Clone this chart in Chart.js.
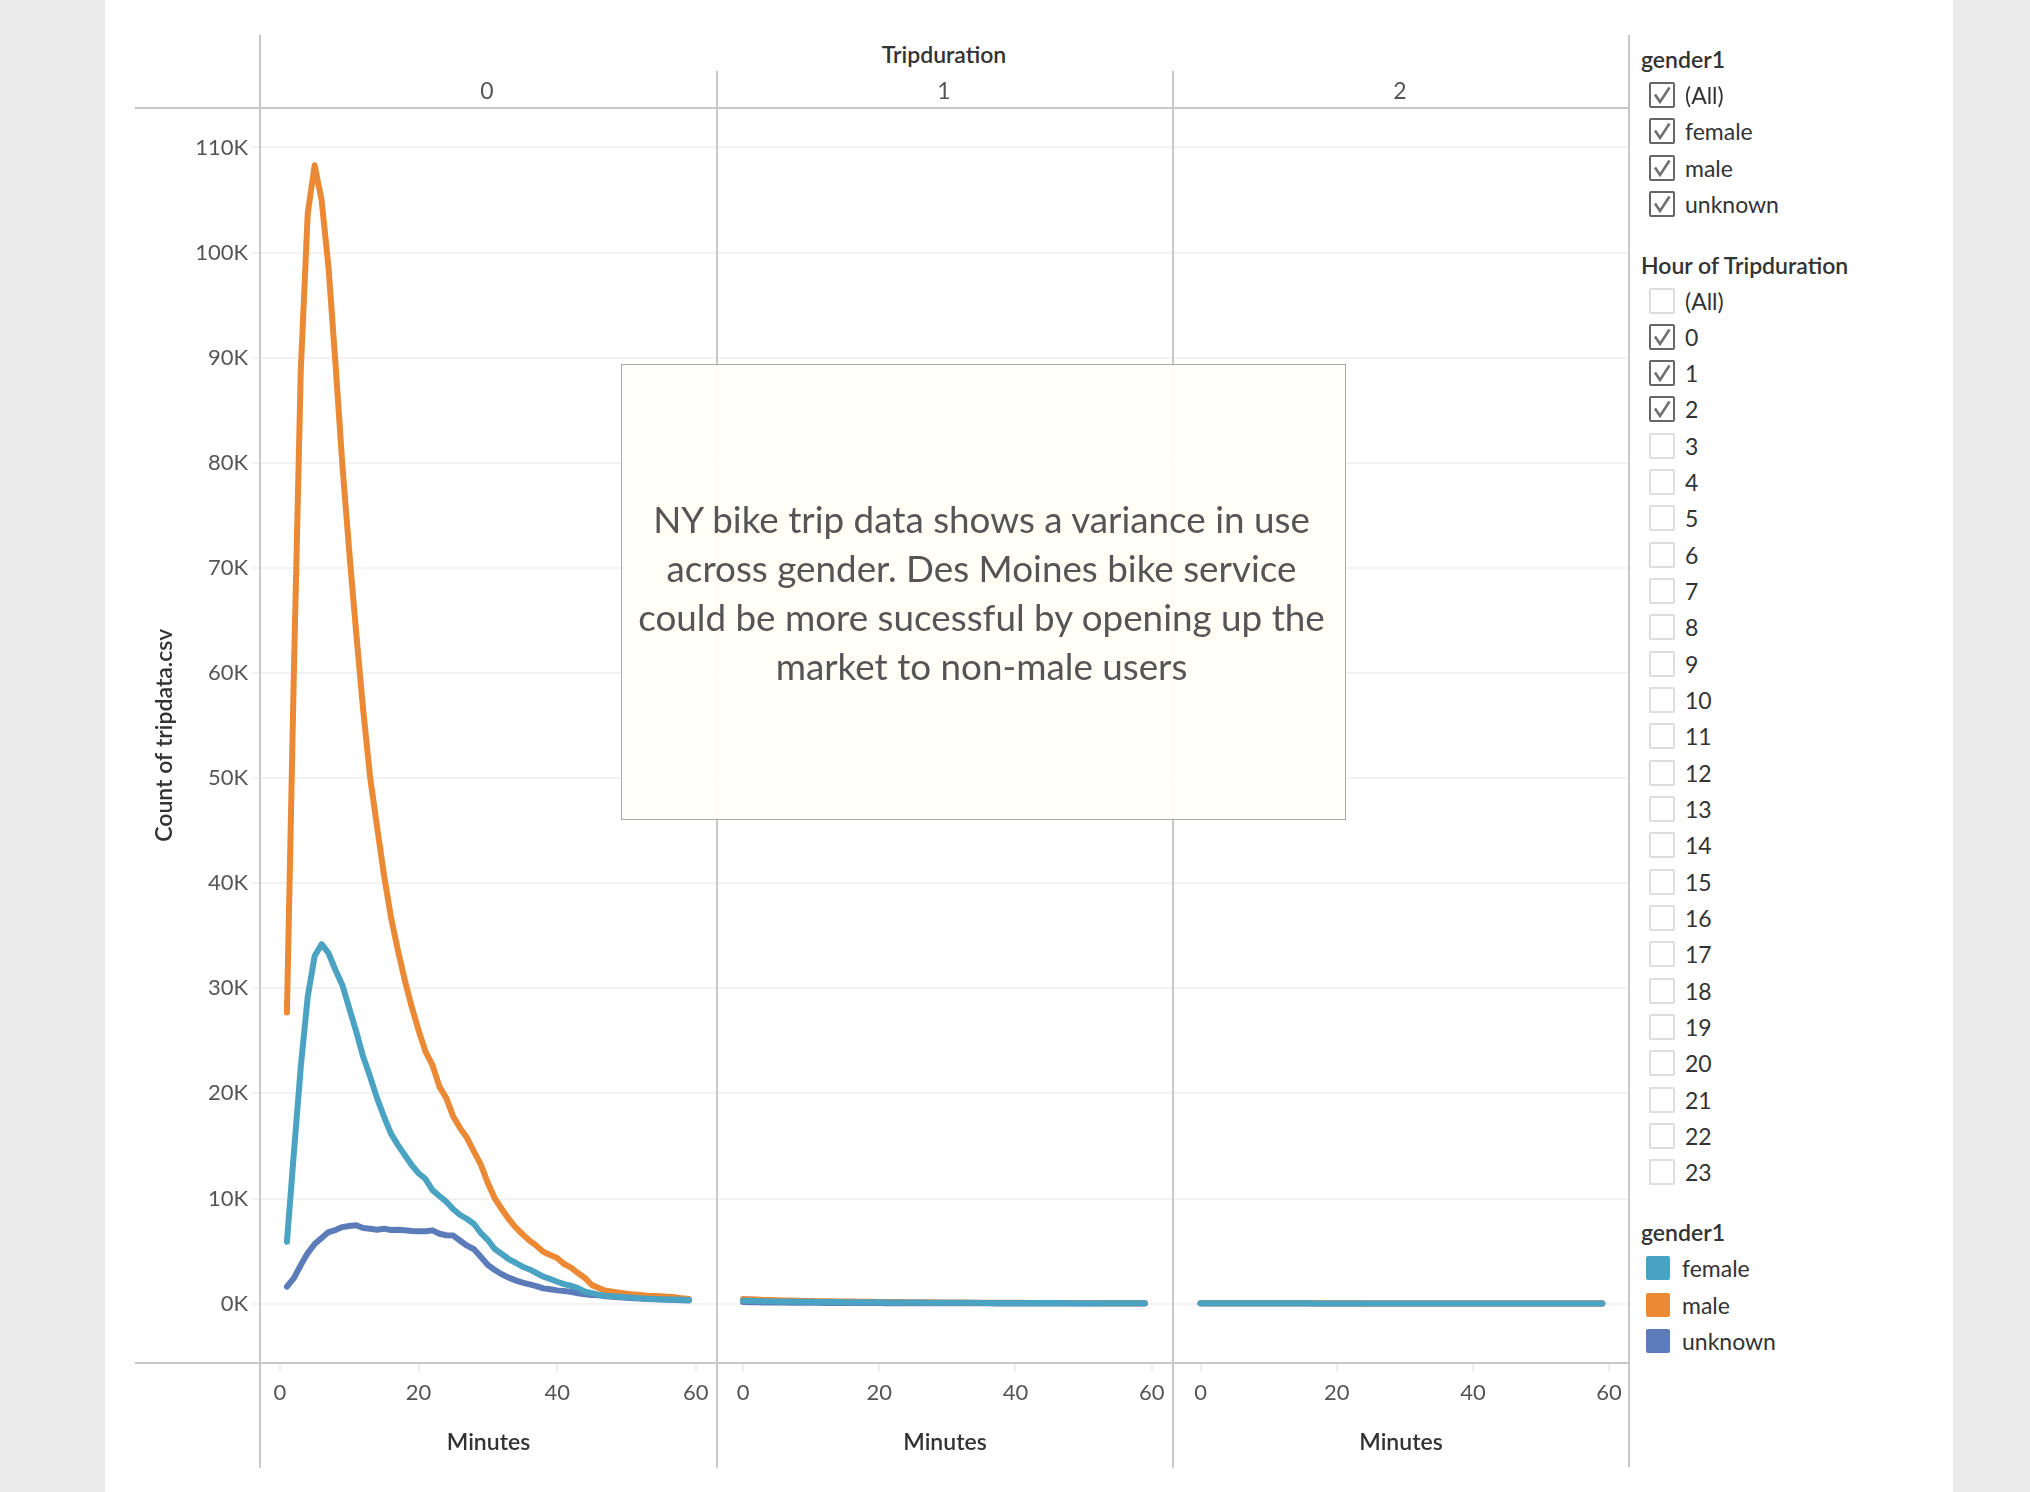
<!DOCTYPE html>
<html>
<head>
<meta charset="utf-8">
<title>Tripduration</title>
<script src="https://cdn.jsdelivr.net/npm/chart.js@4"></script>
<style>
    html, body { margin: 0; padding: 0; background: #fff; }
    body { width: 2030px; height: 1492px; position: relative; overflow: hidden; font-family: Lato, sans-serif; color: #333; }
    .band { position: absolute; top: 0; height: 1492px; background: #ebebeb; }
    canvas { position: absolute; }
    .line { position: absolute; background: #c8c8c8; z-index: 2; }
    .label { position: absolute; white-space: nowrap; transform: translateY(-50%); font-size: 23px; line-height: 26px; z-index: 3; }
    .center { transform: translate(-50%, -50%); }
    .title { font-weight: 600; color: #333; }
    .head { color: #555; }
    .box { position: absolute; left: 1649px; width: 22px; height: 22px; border: 2px solid #666; border-radius: 2px; transform: translateY(-50%); z-index: 3; }
    .box.off { border-color: #ddd; }
    .swatch { position: absolute; left: 1646px; width: 24px; height: 24px; border-radius: 2px; transform: translateY(-50%); }
    #note { position: absolute; left: 621px; top: 364px; width: 723px; height: 454px; border: 1px solid #aaa; background: rgba(255,255,247,0.93); z-index: 4; }
    #note div { position: absolute; left: -2px; width: 100%; text-align: center; font-size: 36.8px; line-height: 49px; color: #555; transform: translateY(-50%); white-space: nowrap; }
</style>
</head>
<body>
<div class="band" style="left:0;width:105px"></div>
<div class="band" style="left:1953px;width:77px"></div>
<div id="page"></div>
<canvas id="hour0" style="left:135px;top:100px"></canvas>
<canvas id="hour1" style="left:717px;top:100px"></canvas>
<canvas id="hour2" style="left:1173px;top:100px"></canvas>
<div id="note"></div>
<script>
// minutes on the x axis of each panel
const minutes0 = [1,2,3,4,5,6,7,8,9,10,11,12,13,14,15,16,17,18,19,20,21,22,23,24,25,26,27,28,29,30,31,32,33,34,35,36,37,38,39,40,41,42,43,44,45,46,47,48,49,50,51,52,53,54,55,56,57,58,59];
const minutes12 = [0,1,2,3,4,5,6,7,8,9,10,11,12,13,14,15,16,17,18,19,20,21,22,23,24,25,26,27,28,29,30,31,32,33,34,35,36,37,38,39,40,41,42,43,44,45,46,47,48,49,50,51,52,53,54,55,56,57,58,59];

// hour 0
const female0 = [5890,14300,22540,29200,33070,34200,33350,31740,30300,28100,25870,23500,21600,19550,17800,16200,15100,14140,13190,12400,11850,10800,10240,9700,8980,8430,8050,7570,6700,6050,5190,4720,4240,3890,3510,3250,2910,2560,2340,2080,1860,1700,1480,1130,1000,850,750,700,650,600,550,500,470,440,420,400,380,370,340];
const male0 = [27700,60000,88800,103700,108300,105000,98600,89500,79800,71500,63800,56500,50100,45400,40800,36800,33650,30800,28250,26000,23970,22700,20640,19550,17800,16700,15750,14450,13190,11470,10000,9000,8050,7250,6600,6000,5510,4940,4620,4340,3770,3420,2910,2440,1770,1480,1230,1130,1040,940,880,820,750,720,690,660,600,500,440];
const unknown0 = [1610,2430,3670,4810,5670,6240,6810,7000,7280,7380,7450,7190,7130,7030,7130,7000,7030,6970,6910,6880,6880,6970,6650,6500,6470,5980,5510,5170,4430,3670,3200,2790,2470,2210,1990,1830,1670,1450,1360,1260,1200,1130,980,880,820,790,700,650,600,560,520,480,450,420,390,360,340,320,300];

// hour 1
const female1 = [300,270,250,235,220,210,200,195,185,180,170,165,160,150,145,140,135,130,125,120,118,112,108,105,100,98,95,92,88,85,82,80,78,75,72,70,68,66,65,62,60,58,56,55,52,50,50,48,46,45,44,42,40,40,38,36,36,35,34,32];
const male1 = [450,410,380,355,335,315,300,285,270,255,245,235,225,215,205,198,190,182,175,170,162,155,150,145,138,132,128,122,118,112,108,105,100,98,92,88,85,82,80,76,74,72,68,65,64,60,58,56,55,52,50,50,48,46,45,42,42,40,38,36];
const unknown1 = [150,135,125,115,108,100,95,90,85,80,76,72,68,65,62,60,56,54,52,50,48,45,44,42,40,38,36,35,34,32,30,30,28,26,26,25,24,22,22,20,20,20,18,18,16,16,15,15,14,14,12,12,12,10,10,10,10,8,8,8];

// hour 2
const female2 = [32,31,31,30,29,29,28,27,27,26,26,25,25,24,24,23,23,22,22,21,21,21,20,20,19,19,19,18,18,18,17,17,17,16,16,16,15,15,15,15,14,14,14,14,13,13,13,13,12,12,12,12,12,11,11,11,11,11,10,10];
const male2 = [36,35,35,34,33,33,32,31,31,30,29,29,28,28,27,27,26,26,25,25,24,24,23,23,22,22,22,21,21,20,20,20,19,19,18,18,18,18,17,17,16,16,16,16,15,15,15,15,14,14,14,14,13,13,13,13,12,12,12,12];
const unknown2 = [12,12,11,11,11,10,10,10,10,9,9,9,9,8,8,8,8,8,7,7,7,7,7,7,6,6,6,6,6,6,5,5,5,5,5,5,5,4,4,4,4,4,4,4,4,3,3,3,3,3,3,3,3,3,3,2,2,2,2,2];

const genders = ['female', 'male', 'unknown'];
const genderFilter = ['(All)', 'female', 'male', 'unknown'];
const hourFilter = ['(All)','0','1','2','3','4','5','6','7','8','9','10','11','12','13','14','15','16','17','18','19','20','21','22','23'];
const hoursChecked = ['0', '1', '2'];
const colors = { female: '#4ba3c3', male: '#ec8935', unknown: '#5b7cb8' };
const noteLines = [
    'NY bike trip data shows a variance in use',
    'across gender. Des Moines bike service',
    'could be more sucessful by opening up the',
    'market to non-male users'
];

Chart.defaults.font.family = 'Lato, sans-serif';
Chart.defaults.font.size = 22;
Chart.defaults.color = '#555';
Chart.defaults.animation = false;

const page = document.getElementById('page');

function addLine(left, top, width, height) {
    const el = document.createElement('div');
    el.className = 'line';
    el.style.cssText = `left:${left}px;top:${top}px;width:${width}px;height:${height}px`;
    page.appendChild(el);
}

function addLabel(text, left, top, cls) {
    const el = document.createElement('div');
    el.className = 'label ' + (cls || '');
    el.textContent = text;
    el.style.left = left + 'px';
    el.style.top = top + 'px';
    page.appendChild(el);
}

function addCheck(label, top, checked) {
    const box = document.createElement('div');
    box.className = 'box' + (checked ? '' : ' off');
    box.style.top = top + 'px';
    if (checked) {
        box.innerHTML = '<svg width="22" height="22" style="display:block"><path d="M4 10.5 L9 18 L18.5 3.5" fill="none" stroke="#707070" stroke-width="2.6"/></svg>';
    }
    page.appendChild(box);
    addLabel(label, 1685, top);
}

// panel rules
addLine(259, 35, 2, 1433);
addLine(716, 71, 2, 1397);
addLine(1172, 71, 2, 1397);
addLine(1628, 35, 2, 1432);
addLine(135, 107, 1494, 2);
addLine(135, 1362, 1494, 2);

// headers
addLabel('Tripduration', 944, 54, 'center title');
addLabel('0', 487, 90, 'center head');
addLabel('1', 944, 90, 'center head');
addLabel('2', 1400, 90, 'center head');

// filters and legend
addLabel('gender1', 1641, 59, 'title');
genderFilter.forEach((g, i) => addCheck(g, 94.7 + i * 36.4, true));
addLabel('Hour of Tripduration', 1641, 265, 'title');
hourFilter.forEach((h, i) => addCheck(h, 300.5 + i * 36.33, hoursChecked.includes(h)));
addLabel('gender1', 1641, 1232, 'title');
genders.forEach((g, i) => {
    const top = 1268 + i * 36.5;
    const sw = document.createElement('div');
    sw.className = 'swatch';
    sw.style.top = top + 'px';
    sw.style.background = colors[g];
    page.appendChild(sw);
    addLabel(g, 1682, top);
});

// note box
const note = document.getElementById('note');
noteLines.forEach((t, i) => {
    const el = document.createElement('div');
    el.textContent = t;
    el.style.top = (153.7 + i * 49) + 'px';
    note.appendChild(el);
});

function lineSet(name, xs, ys) {
    return {
        label: name,
        data: xs.map((x, i) => ({ x: x, y: ys[i] })),
        borderColor: colors[name],
        backgroundColor: colors[name],
        borderWidth: 6,
        borderCapStyle: 'round',
        borderJoinStyle: 'round',
        pointRadius: 0,
        tension: 0
    };
}

function drawPanel(id, width, yWidth, xs, female, male, unknown, xMin, xMax) {
    const canvas = document.getElementById(id);
    canvas.width = width;
    canvas.height = 1380;
    return new Chart(canvas, {
        type: 'line',
        data: {
            datasets: [
                lineSet('female', xs, female),
                lineSet('male', xs, male),
                lineSet('unknown', xs, unknown)
            ]
        },
        options: {
            responsive: false,
            devicePixelRatio: 1,
            layout: { padding: { top: 7.5, right: 0, left: 0, bottom: 0 } },
            plugins: { legend: { display: false }, tooltip: { enabled: false } },
            scales: {
                x: {
                    type: 'linear',
                    min: xMin,
                    max: xMax,
                    border: { display: false },
                    grid: { drawOnChartArea: false, tickLength: 9, color: '#eeeeee', lineWidth: 2 },
                    ticks: { stepSize: 20, includeBounds: false, autoSkip: false, maxRotation: 0, padding: 8, color: '#555' },
                    title: { display: true, text: 'Minutes', color: '#333', font: { size: 23, weight: '600' }, padding: { top: 0, bottom: 24 } },
                    afterFit: scale => { scale.height = 117; scale.paddingLeft = 0; scale.paddingRight = 0; }
                },
                y: {
                    type: 'linear',
                    min: -5650,
                    max: 113800,
                    border: { display: false },
                    grid: { color: '#f2f2f2', lineWidth: 2, tickLength: yWidth ? 8 : 0, drawTicks: yWidth > 0 },
                    ticks: {
                        display: yWidth > 0,
                        maxTicksLimit: 15,
                        includeBounds: false,
                        autoSkip: false,
                        padding: 4,
                        color: '#555',
                        callback: v => (v / 1000) + 'K'
                    },
                    title: {
                        display: yWidth > 0,
                        text: 'Count of tripdata.csv',
                        color: '#333',
                        font: { size: 23, weight: '600' },
                        padding: { top: 16, bottom: 0 }
                    },
                    // keep the tick labels from pushing the plot area down
                    afterFit: scale => { scale.width = yWidth; scale.paddingTop = 0; scale.paddingBottom = 0; }
                }
            }
        }
    });
}

drawPanel('hour0', 582, 125, minutes0, female0, male0, unknown0, -2.886, 63.06);
drawPanel('hour1', 456, 0, minutes12, female1, male1, unknown1, -3.83, 63.13);
drawPanel('hour2', 456, 0, minutes12, female2, male2, unknown2, -4.04, 62.92);
</script>
</body>
</html>
